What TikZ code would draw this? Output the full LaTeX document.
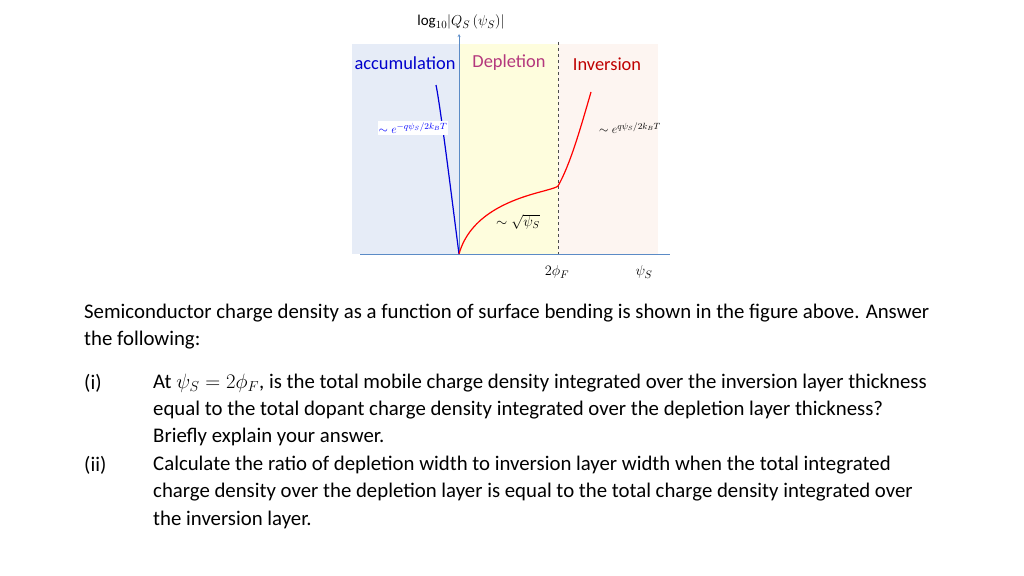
\documentclass[tikz,border=0pt]{standalone}
\usepackage{fontspec}
\setmainfont{Carlito}
\usepackage{amsmath}
\definecolor{accbg}{HTML}{E6ECF7}
\definecolor{depbg}{HTML}{FEFDDD}
\definecolor{invbg}{HTML}{FDF5F1}
\definecolor{axc}{HTML}{5B8BC6}
\begin{document}
\begin{tikzpicture}[x=1pt,y=-1pt,
  body/.style={anchor=west,font=\fontsize{20.8}{27}\selectfont,inner sep=0},
  reg/.style={font=\fontsize{18.4}{20}\selectfont}]
\useasboundingbox (0,0) rectangle (1024,575);
\fill[accbg] (352,44) rectangle (459,254);
\fill[depbg] (459,44) rectangle (558,254);
\fill[invbg] (558,44) rectangle (658,254);
\draw[dashed,black!70] (558,42) -- (558,254);
\coordinate (o) at (459,254);
\coordinate (xe) at (670,254);
\coordinate (ye) at (459,34);
\coordinate (xs) at (360,254);
\draw[axc] (xs) -- (xe);
\draw[axc,->,>=stealth] (o) -- (ye);
\node[inner sep=1pt] (ylab) at (461,22) {\fontsize{15}{15}\selectfont$\log_{10}\lvert Q_S\,(\psi_S)\rvert$};
\node[reg,text=blue!80!black] (acc) at (405,63) {accumulation};
\node[reg,text=magenta!70!black] (dep) at (509,63) {Depletion};
\node[reg,text=red!75!black] (inv) at (607,64) {Inversion};
\draw[blue!85!black,line width=1.2pt] (436,85) .. controls (441,110) and (452,200) .. (o);
\node[fill=white,text=blue,inner sep=1pt] (el) at (413,128) {\fontsize{12.5}{12}\selectfont$\sim e^{-q\psi_S/2k_BT}$};
\draw[red,line width=1.2pt] (o) .. controls (470,215) and (510,200) .. (540,192) .. controls (555,188) and (557,187) .. (558,186) .. controls (570,165) and (580,130) .. (591,92);
\node (er) at (630,128) {\fontsize{12.5}{12}\selectfont$\sim e^{q\psi_S/2k_BT}$};
\node (sq) at (518,222) {\fontsize{14}{14}\selectfont$\sim\sqrt{\psi_S}$};
\node (phi) at (557,272) {\fontsize{15}{15}\selectfont$2\phi_F$};
\node (psi) at (644,272) {\fontsize{15}{15}\selectfont$\psi_S$};
\node[body] (t1) at (84,313) {Semiconductor charge density as a function of surface bending is shown in the figure above. Answer};
\node[body] (t2) at (84,340) {the following:};
\node[body] (i) at (84,383) {(i)};
\node[body] (a1) at (153,383) {At $\psi_S = 2\phi_F$, is the total mobile charge density integrated over the inversion layer thickness};
\node[body] (a2) at (153,410) {equal to the total dopant charge density integrated over the depletion layer thickness?};
\node[body] (a3) at (153,437) {Briefly explain your answer.};
\node[body] (ii) at (84,465) {(ii)};
\node[body] (b1) at (153,465) {Calculate the ratio of depletion width to inversion layer width when the total integrated};
\node[body] (b2) at (153,492) {charge density over the depletion layer is equal to the total charge density integrated over};
\node[body] (b3) at (153,520) {the inversion layer.};
\end{tikzpicture}
\end{document}
